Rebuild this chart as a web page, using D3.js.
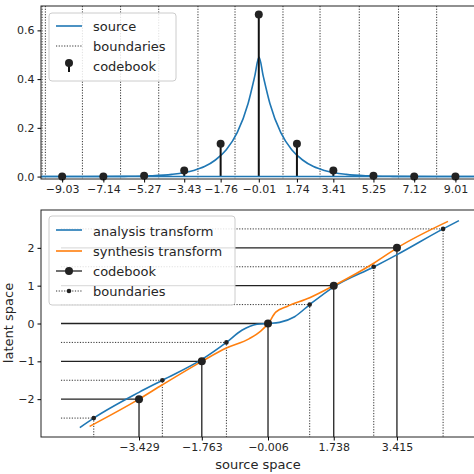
<!DOCTYPE html>
<html><head><meta charset="utf-8">
<script src="https://cdn.jsdelivr.net/npm/d3@7"></script>
<style>body{margin:0;background:#fff}text{font-family:"DejaVu Sans",sans-serif;fill:#262626}</style>
</head><body><svg id="c" width="474" height="474"></svg>
<script>
// top panel
var codeX = [-9.03, -7.14, -5.27, -3.43, -1.76, -0.01, 1.74, 3.41, 5.25, 7.12, 9.01];
var codeP = [0, 0, 0.003, 0.025, 0.135, 0.665, 0.135, 0.025, 0.003, 0, 0];
var bounds = [-9.95, -9.8, -8.1, -6.35, -4.6, -2.8, -1.1, 1.1, 2.8, 4.6, 6.4, 8.15];
var srcX = [-10, -8, -6, -5, -4, -3, -2.5, -2, -1.5, -1, -0.5, -0.2, 0, 0.2, 0.5, 1, 1.5, 2, 2.5, 3, 4, 5, 6, 8, 10];
var srcY = [0, 0, 0.001, 0.003, 0.009, 0.025, 0.041, 0.068, 0.11, 0.18, 0.30, 0.41, 0.49, 0.41, 0.30, 0.18, 0.11, 0.068, 0.041, 0.025, 0.009, 0.003, 0.001, 0, 0];
var yTicksTop = [0, 0.2, 0.4, 0.6];
// bottom panel
var cbX = [-3.429, -1.763, -0.006, 1.738, 3.415];
var cbY = [-2, -1, 0, 1, 2];
var bdX = [-4.63, -2.81, -1.11, 1.10, 2.80, 4.64];
var bdY = [-2.5, -1.5, -0.5, 0.5, 1.5, 2.5];
var anX = [-5.0, -4.63, -3.43, -2.81, -1.76, -1.11, -0.7, -0.3, 0, 0.3, 0.7, 1.1, 1.74, 2.81, 3.42, 4.64, 5.06];
var anY = [-2.75, -2.5, -1.82, -1.5, -0.95, -0.5, -0.18, -0.02, 0, 0.03, 0.18, 0.5, 0.97, 1.5, 1.82, 2.5, 2.72];
var syX = [-4.74, -3.43, -2.81, -1.76, -1.11, -0.5, -0.2, 0, 0.2, 0.5, 1.1, 1.74, 2.81, 3.42, 4.77];
var syY = [-2.72, -2.0, -1.62, -1.0, -0.65, -0.4, -0.2, 0, 0.3, 0.45, 0.68, 1.0, 1.6, 2.0, 2.7];
var yTicksBot = [-2, -1, 0, 1, 2];

var svg = d3.select("#c");
var blue = "#1f77b4", orange = "#ff7f0e";

// ---- top
var x1 = d3.scaleLinear().domain([-10, 10]).range([41, 477]);
var y1 = d3.scaleLinear().domain([-0.01, 0.7]).range([179, 6]);
var g1 = svg.append("g");
g1.selectAll(".bd").data(bounds).enter().append("line")
    .attr("x1", d => x1(d)).attr("x2", d => x1(d)).attr("y1", 6).attr("y2", 179)
    .attr("stroke", "#333").attr("stroke-width", 1).attr("stroke-dasharray", "1.2,1.5");
g1.append("path").datum(d3.zip(srcX, srcY))
    .attr("d", d3.line().x(d => x1(d[0])).y(d => y1(d[1])).curve(d3.curveMonotoneX))
    .attr("fill", "none").attr("stroke", blue).attr("stroke-width", 1.6);
g1.selectAll(".st").data(d3.zip(codeX, codeP)).enter().append("line")
    .attr("x1", d => x1(d[0])).attr("x2", d => x1(d[0])).attr("y1", y1(0)).attr("y2", d => y1(d[1]))
    .attr("stroke", "#111").attr("stroke-width", 2);
g1.append("line").attr("x1", 41).attr("x2", 477).attr("y1", y1(0)).attr("y2", y1(0))
    .attr("stroke", blue).attr("stroke-width", 1.6);
g1.selectAll(".pt").data(d3.zip(codeX, codeP)).enter().append("circle")
    .attr("cx", d => x1(d[0])).attr("cy", d => y1(d[1])).attr("r", 4).attr("fill", "#222");
g1.append("rect").attr("x", 41).attr("y", 6).attr("width", 436).attr("height", 173)
    .attr("fill", "none").attr("stroke", "#222");
g1.append("g").attr("transform", "translate(0,179)")
    .call(d3.axisBottom(x1).tickValues(codeX).tickSize(3.5).tickFormat(d => d3.format(".2f")(d).replace("-", "\u2212")))
    .call(a => a.select(".domain").remove()).selectAll("text").attr("font-size", 11);
g1.append("g").attr("transform", "translate(41,0)")
    .call(d3.axisLeft(y1).tickValues(yTicksTop).tickSize(3.5).tickFormat(d3.format(".1f")))
    .call(a => a.select(".domain").remove()).selectAll("text").attr("font-size", 11);
// legend top
var l1 = svg.append("g");
l1.append("rect").attr("x", 49).attr("y", 13).attr("width", 127).attr("height", 68).attr("rx", 3)
    .attr("fill", "#fff").attr("fill-opacity", 0.85).attr("stroke", "#ccc");
l1.append("line").attr("x1", 56).attr("x2", 82).attr("y1", 26).attr("y2", 26).attr("stroke", blue).attr("stroke-width", 1.6);
l1.append("line").attr("x1", 56).attr("x2", 82).attr("y1", 46).attr("y2", 46).attr("stroke", "#333").attr("stroke-dasharray", "1.2,1.5");
l1.append("line").attr("x1", 69).attr("x2", 69).attr("y1", 63).attr("y2", 72).attr("stroke", "#111").attr("stroke-width", 2);
l1.append("circle").attr("cx", 69).attr("cy", 63).attr("r", 4).attr("fill", "#222");
["source", "boundaries", "codebook"].forEach(function(t, i) {
    l1.append("text").attr("x", 93).attr("y", 30.5 + i * 20).attr("font-size", 13).text(t);
});

// ---- bottom
var x2 = d3.scaleLinear().domain([-6.03, 5.46]).range([41, 474]);
var y2 = d3.scaleLinear().domain([-3, 3]).range([437, 210]);
var g2 = svg.append("g");
var xl = -5.5;
d3.zip(bdX, bdY).forEach(function(d) {
    g2.append("path").attr("d", "M" + x2(xl) + "," + y2(d[1]) + "H" + x2(d[0]) + "V" + y2(-3))
        .attr("fill", "none").attr("stroke", "#333").attr("stroke-dasharray", "1.2,1.5");
});
d3.zip(cbX, cbY).forEach(function(d) {
    g2.append("path").attr("d", "M" + x2(xl) + "," + y2(d[1]) + "H" + x2(d[0]) + "V" + y2(-3))
        .attr("fill", "none").attr("stroke", "#222").attr("stroke-width", 1.3);
});
var ln = d3.line().x(d => x2(d[0])).y(d => y2(d[1])).curve(d3.curveMonotoneX);
g2.append("path").datum(d3.zip(anX, anY)).attr("d", ln).attr("fill", "none").attr("stroke", blue).attr("stroke-width", 1.6);
g2.append("path").datum(d3.zip(syX, syY)).attr("d", ln).attr("fill", "none").attr("stroke", orange).attr("stroke-width", 1.6);
g2.selectAll(".bp").data(d3.zip(bdX, bdY)).enter().append("circle")
    .attr("cx", d => x2(d[0])).attr("cy", d => y2(d[1])).attr("r", 2.3).attr("fill", "#222");
g2.selectAll(".cp").data(d3.zip(cbX, cbY)).enter().append("circle")
    .attr("cx", d => x2(d[0])).attr("cy", d => y2(d[1])).attr("r", 4).attr("fill", "#222");
g2.append("rect").attr("x", 41).attr("y", 210).attr("width", 436).attr("height", 227)
    .attr("fill", "none").attr("stroke", "#222");
g2.append("g").attr("transform", "translate(0,437)")
    .call(d3.axisBottom(x2).tickValues(cbX).tickSize(3.5).tickFormat(d => d3.format(".3f")(d).replace("-", "\u2212")))
    .call(a => a.select(".domain").remove()).selectAll("text").attr("font-size", 11);
g2.append("g").attr("transform", "translate(41,0)")
    .call(d3.axisLeft(y2).tickValues(yTicksBot).tickSize(3.5).tickFormat(d => String(d).replace("-", "\u2212")))
    .call(a => a.select(".domain").remove()).selectAll("text").attr("font-size", 11);
svg.append("text").attr("x", 258).attr("y", 469).attr("text-anchor", "middle").attr("font-size", 13).text("source space");
svg.append("text").attr("transform", "translate(13,323) rotate(-90)").attr("text-anchor", "middle").attr("font-size", 13).text("latent space");
// legend bottom
var l2 = svg.append("g");
l2.append("rect").attr("x", 49).attr("y", 216).attr("width", 186).attr("height", 89).attr("rx", 3)
    .attr("fill", "#fff").attr("fill-opacity", 0.85).attr("stroke", "#ccc");
l2.append("line").attr("x1", 56).attr("x2", 82).attr("y1", 230).attr("y2", 230).attr("stroke", blue).attr("stroke-width", 1.6);
l2.append("line").attr("x1", 56).attr("x2", 82).attr("y1", 251).attr("y2", 251).attr("stroke", orange).attr("stroke-width", 1.6);
l2.append("line").attr("x1", 56).attr("x2", 82).attr("y1", 271).attr("y2", 271).attr("stroke", "#222").attr("stroke-width", 1.3);
l2.append("circle").attr("cx", 69).attr("cy", 271).attr("r", 4).attr("fill", "#222");
l2.append("line").attr("x1", 56).attr("x2", 82).attr("y1", 291).attr("y2", 291).attr("stroke", "#333").attr("stroke-dasharray", "1.2,1.5");
l2.append("circle").attr("cx", 69).attr("cy", 291).attr("r", 2.3).attr("fill", "#222");
["analysis transform", "synthesis transform", "codebook", "boundaries"].forEach(function(t, i) {
    l2.append("text").attr("x", 93).attr("y", 235.5 + i * 20.3).attr("font-size", 13).text(t);
});
</script></body></html>
